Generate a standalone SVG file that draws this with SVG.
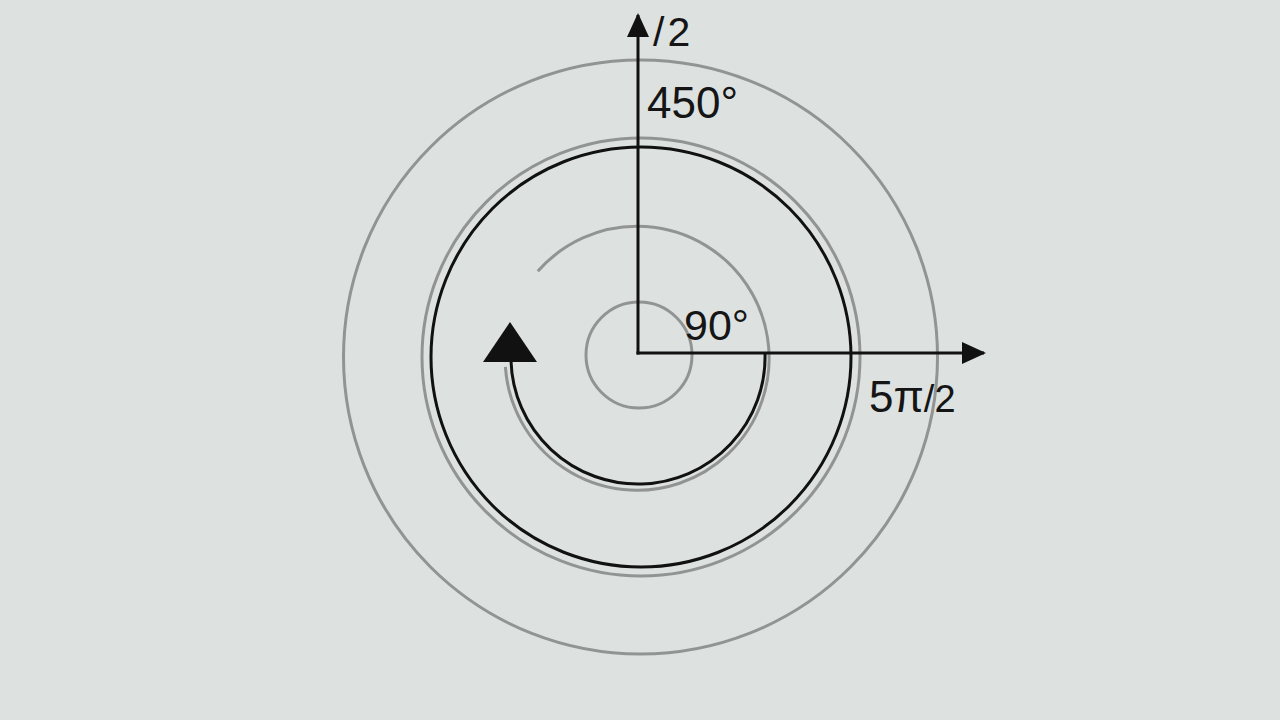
<svg xmlns="http://www.w3.org/2000/svg" width="1280" height="720" viewBox="0 0 1280 720">
  <style>
    .gray { fill: none; stroke: #929494; stroke-width: 3; }
    .blk { fill: none; stroke: #111; stroke-width: 3; }
    .lbl { font-family: "Liberation Sans", Arial, sans-serif; fill: #151515; }
  </style>
  <defs>
    <marker id="ah" viewBox="0 0 24 22" refX="22" refY="11" markerWidth="24" markerHeight="22" markerUnits="userSpaceOnUse" orient="auto">
      <path d="M0,0 L24,11 L0,22 Z" fill="#111"/>
    </marker>
  </defs>
  <rect width="1280" height="720" fill="#dde2e1"/>

  <g id="rings">
    <circle id="outer-ring" class="gray" cx="640.5" cy="357" r="297"/>
    <circle id="mid-gray-ring" class="gray" cx="641" cy="357" r="219"/>
    <circle id="black-ring" class="blk" cx="641" cy="357" r="210"/>
    <circle id="inner-ring" class="gray" cx="639" cy="355" r="53"/>
    <path id="gray-spiral" class="gray" d="M 537.8 271.3 A 132 132 0 1 1 505.4 366.9"/>
  </g>

  <g id="connectors">
    <line id="y-axis" class="blk" x1="638" y1="354.5" x2="638" y2="15" marker-end="url(#ah)"/>
    <line id="x-axis" class="blk" x1="636.5" y1="353" x2="984" y2="353" marker-end="url(#ah)"/>
    <path id="rotation-arc" class="blk" d="M 765 353 A 127 127 0 0 1 511 361"/>
    <polygon id="rotation-head" points="510,322 483,362 537,362" fill="#111"/>
  </g>

  <g id="label-top">
    <text class="lbl" x="653" y="46" font-size="41" letter-spacing="3">/2</text>
  </g>
  <g id="label-450">
    <text class="lbl" x="647" y="118" font-size="44">450°</text>
  </g>
  <g id="label-90">
    <text class="lbl" x="684" y="340" font-size="43">90°</text>
  </g>
  <g id="label-5pi">
    <text class="lbl" x="869" y="412" font-size="44">5π<tspan font-size="38">/2</tspan></text>
  </g>
</svg>
